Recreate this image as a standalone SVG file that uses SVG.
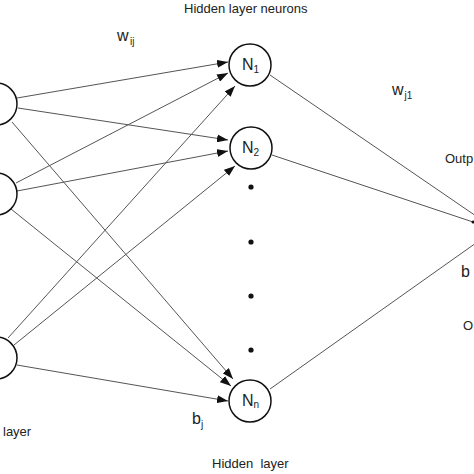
<svg xmlns="http://www.w3.org/2000/svg" width="474" height="474" viewBox="0 0 474 474">
<style>
.node{fill:#fff;stroke:#111;stroke-width:1.5}
.edge{stroke:#555;stroke-width:1;fill:none}
.arr{marker-end:url(#ah)}
text{font-family:"Liberation Sans",Arial,sans-serif;fill:#222}
.lbl{font-size:13px}
.big{font-size:16px}
.sub{font-size:10px}
.dot{fill:#111}
</style>
<defs>
<marker id="ah" markerUnits="userSpaceOnUse" markerWidth="12" markerHeight="8" refX="11" refY="4" orient="auto">
<path d="M0,0 L11,4 L0,8 z" fill="#111"/>
</marker>
</defs>
<rect width="474" height="474" fill="#fff"/>
<g id="connectors">
<line class="edge arr" x1="17" y1="98" x2="228" y2="62"/>
<line class="edge arr" x1="18" y1="108" x2="228" y2="140"/>
<line class="edge arr" x1="12" y1="122" x2="233" y2="379"/>
<line class="edge arr" x1="16" y1="183" x2="228" y2="73"/>
<line class="edge arr" x1="17" y1="191" x2="228" y2="151"/>
<line class="edge arr" x1="11" y1="209" x2="231" y2="386"/>
<line class="edge arr" x1="8" y1="338" x2="235" y2="86"/>
<line class="edge arr" x1="14" y1="345" x2="235" y2="166"/>
<line class="edge arr" x1="17" y1="365" x2="228" y2="401"/>
<line class="edge" x1="270" y1="75" x2="476" y2="216"/>
<line class="edge" x1="272" y1="155" x2="476" y2="223"/>
<line class="edge" x1="270" y1="389" x2="476" y2="243"/>
</g>
<g id="input1"><circle class="node" cx="-4" cy="104" r="21"/></g>
<g id="input2"><circle class="node" cx="-4" cy="194" r="21"/></g>
<g id="input3"><circle class="node" cx="-4" cy="358" r="21"/></g>
<g id="n1"><circle class="node" cx="250" cy="65" r="21"/>
<text class="big" x="242" y="70">N</text><text class="sub" x="253.5" y="73">1</text></g>
<g id="n2"><circle class="node" cx="251" cy="148" r="21"/>
<text class="big" x="242" y="153">N</text><text class="sub" x="253.5" y="156">2</text></g>
<g id="nn"><circle class="node" cx="250" cy="401" r="21"/>
<text class="big" x="242" y="406">N</text><text class="sub" x="253.5" y="408">n</text></g>
<g id="dots">
<circle class="dot" cx="251" cy="187" r="2.6"/>
<circle class="dot" cx="251" cy="242" r="2.6"/>
<circle class="dot" cx="251" cy="296" r="2.6"/>
<circle class="dot" cx="251" cy="350" r="2.6"/>
</g>
<g id="output"><circle class="dot" cx="473" cy="222" r="1.5"/></g>
<g id="labels">
<text class="lbl" x="184" y="13">Hidden layer neurons</text>
<text class="big" x="117" y="41">w</text><text class="sub" x="130" y="45">ij</text>
<text class="big" x="392" y="95">w</text><text class="sub" x="404.5" y="99">j1</text>
<text class="lbl" x="445" y="163">Outp</text>
<text class="big" x="461" y="277">b</text>
<text class="lbl" x="463" y="330">O</text>
<text class="big" x="192" y="424">b</text><text class="sub" x="201" y="428">j</text>
<text class="lbl" x="3" y="436">layer</text>
<text class="lbl" x="212" y="468" xml:space="preserve">Hidden  layer</text>
</g>
</svg>
